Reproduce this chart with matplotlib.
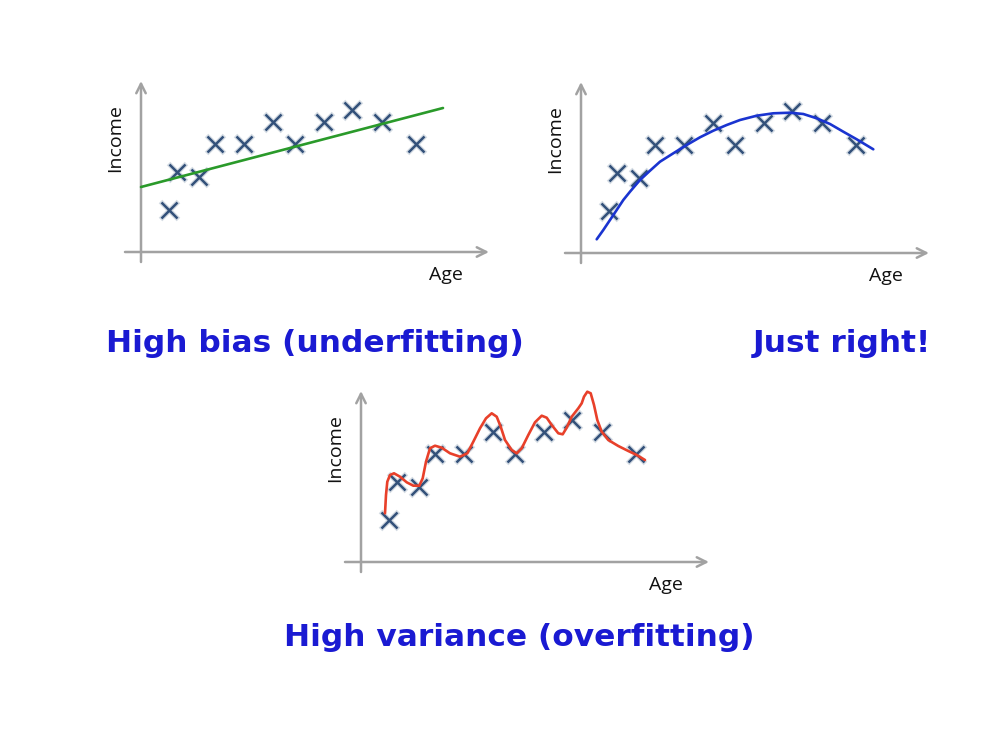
# coding: utf-8
"""
Bias / variance illustration: three small Income-vs-Age panels
"""

import matplotlib
matplotlib.use('Agg')
import matplotlib.pyplot as plt

# sample points (same data in every panel)
age = [28, 36, 58, 74, 103, 132, 154, 183, 211, 241, 275]
income = [42, 80, 75, 108, 108, 130, 108, 130, 142, 130, 108]

# straight line fit (high bias)
line_age = [0, 302]
line_income = [65, 144]

# smooth curve (just right)
curve_age = [15.7, 22.3, 29, 35.7, 42.3, 49, 59, 69, 79, 92.3, 105.7, 119, 132.3,
             145.7, 159, 175.7, 192.3, 209, 222.3, 235.7, 249, 262.3, 275.7, 292.3]
curve_income = [13.7, 23, 33, 43, 53, 61.3, 73, 82.3, 91.3, 99.7, 108, 115.7, 122.3,
                128, 133, 137.3, 139.7, 140.3, 139, 134.7, 129, 121.3, 113.7, 103.7]

# wiggly curve (high variance)
wiggle_age = [24, 25, 26.3, 29, 33, 39, 45.7, 52.3, 58.3, 61.7, 65, 69, 74, 80.7, 89,
              99, 106.3, 112.3, 119, 125, 130.7, 135.7, 139.7, 144, 150.7, 155.7,
              160.7, 167.3, 174, 180.7, 185.7, 190.7, 197.3, 201.7, 205.7, 210.7,
              217.3, 220.7, 223, 226.3, 229.7, 233, 236.3, 240.7, 247.3, 257.3,
              267.3, 275.7, 284]
wiggle_income = [48.7, 67, 80.3, 87, 88.7, 85.3, 79.7, 76.3, 76.3, 83.7, 100.3, 113.7,
                 116.3, 114.3, 108.7, 105.3, 108.7, 120.3, 133.7, 143.7, 148.7, 145.3,
                 135.3, 122, 112, 108.7, 113.7, 127, 139.7, 146.3, 144.3, 137, 128.7,
                 127.7, 134.3, 145.3, 153.7, 158.7, 165.3, 170.3, 168.7, 157, 142,
                 130.3, 122, 116, 111, 107, 102]

W, H = 998, 732
AXIS_COLOR = '#a2a2a2'
MARK_COLOR = '#33517a'
TITLE_COLOR = '#1a1ad2'
LABEL_FONT = ['Open Sans', 'DejaVu Sans']


def make_panel(fig, x0, y0):
    """
    x0, y0 = pixel position of the axes origin (top-left based)
    """
    left, right = -16, 349
    bottom, top = -10, 172
    ax = fig.add_axes([(x0 + left) / W, 1 - (y0 - bottom) / H,
                       (right - left) / W, (top - bottom) / H])
    ax.set_xlim(left, right)
    ax.set_ylim(bottom, top)
    ax.axis('off')

    # axes drawn as arrows
    arrow = dict(arrowstyle='->', color=AXIS_COLOR, lw=1.8, mutation_scale=17,
                 shrinkA=0, shrinkB=0)
    ax.annotate('', xy=(right - 1, 0), xytext=(left, 0), arrowprops=arrow)
    ax.annotate('', xy=(0, top - 1), xytext=(0, bottom), arrowprops=arrow)

    ax.text(-26, 114, 'Income', rotation=90, ha='center', va='center',
            fontsize=14, family=LABEL_FONT, color='#111111')
    ax.text(305, -23, 'Age', ha='center', va='center',
            fontsize=14, family=LABEL_FONT, color='#111111', clip_on=False)
    return ax


def draw_points(ax):
    # soft halo under the crosses
    ax.plot(age, income, 'x', ms=12.5, mew=3.6, color='#c9d2dc', alpha=0.8,
            linestyle='none', zorder=3)
    ax.plot(age, income, 'x', ms=11.5, mew=1.8, color=MARK_COLOR,
            linestyle='none', zorder=4)


def draw_fit(ax, xs, ys, color):
    ax.plot(xs, ys, color=color, lw=1.9, zorder=5,
            solid_joinstyle='round', solid_capstyle='round')


fig = plt.figure(figsize=(W / 100, H / 100), dpi=100)

# high bias
ax1 = make_panel(fig, 141, 252)
draw_fit(ax1, line_age, line_income, '#2a9a2a')
draw_points(ax1)

# just right
ax2 = make_panel(fig, 581, 253)
draw_fit(ax2, curve_age, curve_income, '#1a34d0')
draw_points(ax2)

# high variance
ax3 = make_panel(fig, 361, 562)
draw_fit(ax3, wiggle_age, wiggle_income, '#e8402a')
draw_points(ax3)

# captions
cap = dict(ha='center', va='center', fontsize=22.5, fontweight='bold',
           color=TITLE_COLOR, family='DejaVu Sans')
fig.text(315 / W, 1 - 343 / H, 'High bias (underfitting)', **cap)
fig.text(842 / W, 1 - 343 / H, 'Just right!', **cap)
fig.text(519 / W, 1 - 637 / H, 'High variance (overfitting)', **cap)

fig.savefig('out.png', dpi=100)
